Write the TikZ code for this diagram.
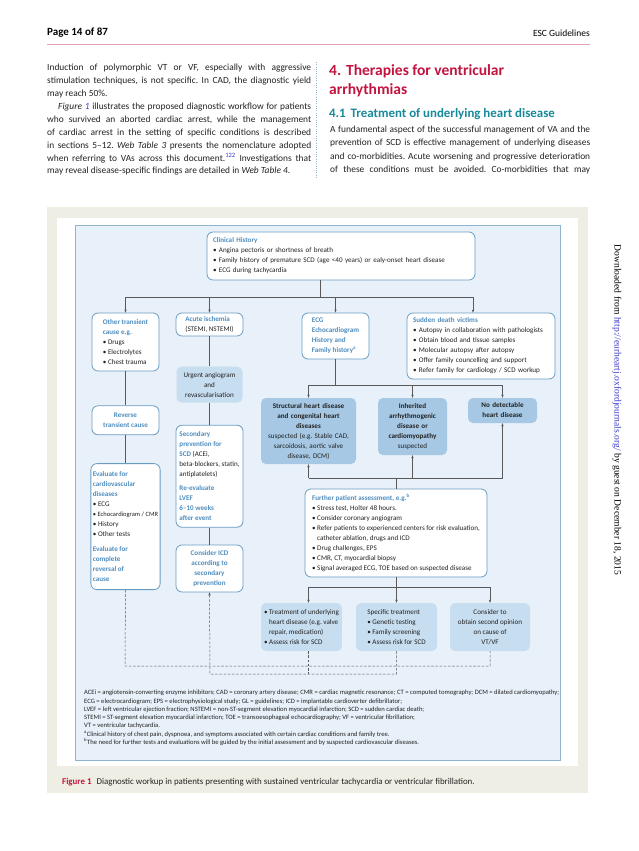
\documentclass[tikz,border=0pt]{standalone}
\usepackage{fontspec}
\setmainfont{Carlito}
\newfontfamily\serifside{Liberation Serif}
\usetikzlibrary{positioning,arrows.meta}
\definecolor{figblue}{HTML}{4F8DBE}
\definecolor{boxline}{HTML}{6A9CC2}
\definecolor{panelfill}{HTML}{E8F1F9}
\definecolor{panelline}{HTML}{8DB5D2}
\definecolor{darkfill}{HTML}{A6C8E4}
\definecolor{lightfill}{HTML}{C7DDF0}
\definecolor{framebeige}{HTML}{EFEEE4}
\definecolor{esccrimson}{HTML}{C3143F}
\definecolor{escteal}{HTML}{17899A}
\definecolor{rulepink}{HTML}{E6A3B3}
\definecolor{inktext}{HTML}{222222}
\definecolor{linkblue}{HTML}{3D3DCC}
\newcommand{\hd}[1]{\textcolor{figblue}{\textbf{#1}}}
\newcommand{\bul}{\textbullet\ }
\newcommand{\jline}[2][264pt]{\makebox[#1][s]{#2}}
\frenchspacing
\begin{document}
\begin{tikzpicture}[x=1pt, y=-1pt,
  figtext/.style={font=\fontsize{7.1}{10}\selectfont, text=inktext},
  wbox/.style={figtext, draw=boxline, line width=0.8pt, fill=white, rounded corners=6pt, inner xsep=4pt, inner ysep=2pt},
  dbox/.style={figtext, fill=darkfill, rounded corners=5pt, inner xsep=3pt, inner ysep=2pt, align=center},
  lbox/.style={figtext, fill=lightfill, rounded corners=5pt, inner xsep=3pt, inner ysep=2pt},
  conn/.style={draw=black!65, line width=0.5pt},
  tip/.style={conn, -{Stealth[length=3.2pt,width=2.4pt]}},
  dashconn/.style={conn, dash pattern=on 2.6pt off 1.6pt},
  bodyline/.style={anchor=west, inner sep=0pt, font=\fontsize{9.4}{12.9}\selectfont, text=inktext}]
\useasboundingbox (0,0) rectangle (638,851);
\fill[white] (0,0) rectangle (638,851);
% page head
\node (pagenum) [anchor=west, inner sep=0pt, font=\fontsize{11}{13}\selectfont\bfseries] at (47,33) {Page 14 of 87};
\node (journal) [anchor=east, inner sep=0pt, font=\fontsize{9.5}{11}\selectfont] at (590,33) {ESC Guidelines};
\draw[rulepink, line width=1.4pt] (47,44.5) -- (590,44.5);
% left column
\node (l1) [bodyline] at (47,68) {\jline{Induction of polymorphic VT or VF, especially with aggressive}};
\node (l2) [bodyline] at (47,81) {\jline{stimulation techniques, is not specific. In CAD, the diagnostic yield}};
\node (l3) [bodyline] at (47,93.5) {may reach 50\%.};
\node (l4) [bodyline] at (47,107) {\jline{\hspace*{11pt}\textit{Figure \textcolor{linkblue}{1}} illustrates the proposed diagnostic workflow for patients}};
\node (l5) [bodyline] at (47,120) {\jline{who survived an aborted cardiac arrest, while the management}};
\node (l6) [bodyline] at (47,133) {\jline{of cardiac arrest in the setting of specific conditions is described}};
\node (l7) [bodyline] at (47,145.5) {\jline{in sections 5--12. \textit{Web Table 3} presents the nomenclature adopted}};
\node (l8) [bodyline] at (47,158) {\jline{when referring to VAs across this document.\textsuperscript{\textcolor{linkblue}{122}} Investigations that}};
\node (l9) [bodyline] at (47,171) {may reveal disease-specific findings are detailed in \textit{Web Table 4}.};
\draw[panelline, line width=0.7pt, dash pattern=on 0.7pt off 1.6pt] (316,62) -- (316,178);
% right column
\node (t1) [anchor=west, inner sep=0pt, font=\fontsize{15.5}{18}\selectfont\bfseries, text=esccrimson] at (329,71) {4.\hspace{5pt}Therapies for ventricular};
\node (t2) [anchor=west, inner sep=0pt, font=\fontsize{15.5}{18}\selectfont\bfseries, text=esccrimson] at (329,90) {arrhythmias};
\node (h41) [anchor=west, inner sep=0pt, font=\fontsize{12.9}{15}\selectfont\bfseries, text=escteal] at (329,114) {4.1\hspace{5pt}Treatment of underlying heart disease};
\node (r1) [bodyline] at (330,130) {\jline[260pt]{A fundamental aspect of the successful management of VA and the}};
\node (r2) [bodyline] at (330,143.5) {\jline[260pt]{prevention of SCD is effective management of underlying diseases}};
\node (r3) [bodyline] at (330,157) {\jline[260pt]{and co-morbidities. Acute worsening and progressive deterioration}};
\node (r4) [bodyline] at (330,170) {\jline[260pt]{of these conditions must be avoided. Co-morbidities that may}};
\node (sidenote) [rotate=-90, inner sep=0pt, font=\serifside\fontsize{9.6}{11}\selectfont] at (617,410) {Downloaded from \textcolor{linkblue}{http://eurheartj.oxfordjournals.org/} by guest on December 18, 2015};
% figure frame
\fill[framebeige] (47,207) rectangle (588,793);
\fill[white] (57,218) rectangle (578,766);
\draw[panelline, fill=panelfill, line width=0.7pt] (75,225) rectangle (560,760);
% boxes
\node (clin) [wbox, text width=256pt, inner xsep=6pt, minimum height=48pt, align=left] at (341,256) {\hd{Clinical History}\\ \bul Angina pectoris or shortness of breath\\ \bul Family history of premature SCD (age <40 years) or ealy-onset heart disease\\ \bul ECG during tachycardia};
\node (other) [wbox, minimum width=67pt, minimum height=58pt, align=left] at (125.5,342) {\hd{Other transient}\\ \hd{cause e.g.}\\ \bul Drugs\\ \bul Electrolytes\\ \bul Chest trauma};
\node (acute) [wbox, minimum width=67pt, minimum height=23pt, align=left] at (209.5,324.5) {\hd{Acute ischemia}\\ (STEMI, NSTEMI)};
\node (ecg) [wbox, minimum width=67pt, minimum height=46pt, align=left] at (335.5,336) {\hd{ECG}\\ \hd{Echocardiogram}\\ \hd{History and}\\ \hd{Family history\textsuperscript{a}}};
\node (sudden) [wbox, text width=136pt, inner xsep=6pt, minimum height=66pt, align=left] at (481,346) {\hd{Sudden death victims}\\ \bul Autopsy in collaboration with pathologists\\ \bul Obtain blood and tissue samples\\ \bul Molecular autopsy after autopsy\\ \bul Offer family councelling and support\\ \bul Refer family for cardiology / SCD workup};
\node (reverse) [wbox, minimum width=67pt, minimum height=29pt, align=center, below=34pt of other] {\hd{Reverse}\\ \hd{transient cause}};
\node (evaluate) [wbox, inner xsep=2pt, minimum width=67pt, minimum height=126pt, align=left, below=28pt of reverse] {\hd{Evaluate for}\\ \hd{cardiovascular}\\ \hd{diseases}\\ \bul ECG\\ {\fontsize{6.5}{10}\selectfont\bul Echocardiogram / CMR}\\ \bul History\\ \bul Other tests\\[5pt] \hd{Evaluate for}\\ \hd{complete}\\ \hd{reversal of}\\ \hd{cause}};
\node (urgent) [lbox, minimum width=66pt, minimum height=36pt, align=center, below=30pt of acute] {Urgent angiogram\\ and\\ revascularisation};
\node (secondary) [wbox, inner xsep=3pt, minimum width=67pt, minimum height=102pt, align=left, below=22pt of urgent] {\hd{Secondary}\\ \hd{prevention for}\\ \hd{SCD} (ACEi,\\ beta-blockers, statin,\\ antiplatelets)\\[4pt] \hd{Re-evaluate}\\ \hd{LVEF}\\ \hd{6--10 weeks}\\ \hd{after event}};
\node (icd) [wbox, minimum width=67pt, minimum height=47pt, align=center, below=17pt of secondary] {\hd{Consider ICD}\\ \hd{according to}\\ \hd{secondary}\\ \hd{prevention}};
\node (struct) [dbox, text width=89pt, minimum height=66pt] at (308.5,431) {\textbf{Structural heart disease}\\ \textbf{and congenital heart}\\ \textbf{diseases}\\ suspected (e.g. Stable CAD,\\ sarcoidosis, aortic valve\\ disease, DCM)};
\node (inher) [dbox, text width=63pt, minimum height=57pt] at (412.5,426.5) {\textbf{Inherited}\\ \textbf{arrhythmogenic}\\ \textbf{disease or}\\ \textbf{cardiomyopathy}\\ suspected};
\node (nodet) [dbox, text width=63pt, minimum height=25pt] at (502.5,410.5) {\textbf{No detectable}\\ \textbf{heart disease}};
\node (assess) [wbox, minimum width=182pt, minimum height=88pt, align=left] at (396,533) {\hd{Further patient assessment, e.g.\textsuperscript{b}}\\ \bul Stress test, Holter 48 hours.\\ \bul Consider coronary angiogram\\ \bul Refer patients to experienced centers for risk evaluation,\\ \hspace*{5pt}catheter ablation, drugs and ICD\\ \bul Drug challenges, EPS\\ \bul CMR, CT, myocardial biopsy\\ \bul Signal averaged ECG, TOE based on suspected disease};
\node (treat1) [lbox, minimum width=77pt, minimum height=48pt, align=left] at (301.5,627) {\bul Treatment of underlying\\ \hspace*{5pt}heart disease (e.g. valve\\ \hspace*{5pt}repair, medication)\\ \bul Assess risk for SCD};
\node (treat2) [lbox, minimum width=81pt, minimum height=48pt, align=left] at (396.5,627) {Specific treatment\\ \bul Genetic testing\\ \bul Family screening\\ \bul Assess risk for SCD};
\node (treat3) [lbox, minimum width=80pt, minimum height=48pt, align=center] at (490,627) {Consider to\\ obtain second opinion\\ on cause of\\ VT/VF};
% branch points
\coordinate (b1) at (320,297);
\coordinate (b1r) at (473,297);
\coordinate (b2) at (336,385);
\coordinate (b3) at (396,478);
\coordinate (b4) at (396,587);
\coordinate (d1) at (125,666);
\coordinate (d2) at (210,674);
% connectors
\draw[conn] (clin.south -| b1) -- (b1);
\draw[conn] (other.north |- b1) -- (b1r);
\draw[tip] (other.north |- b1) -- (other.north);
\draw[tip] (acute.north |- b1) -- (acute.north);
\draw[tip] (ecg.north |- b1) -- (ecg.north);
\draw[tip] (b1r) -- (b1r |- sudden.north);
\draw[conn] (other) -- (reverse);
\draw[conn] (reverse) -- (evaluate);
\draw[conn] (acute) -- (urgent);
\draw[conn] (urgent) -- (secondary);
\draw[conn] (secondary) -- (icd);
\draw[conn] (ecg.south) -- (ecg.south |- b2);
\draw[conn] (struct.north |- b2) -- (nodet.north |- b2);
\draw[tip] (struct.north |- b2) -- (struct.north);
\draw[tip] (inher.north |- b2) -- (inher.north);
\draw[tip] (nodet.north |- b2) -- (nodet.north);
\draw[conn] (assess.north) -- (b3);
\draw[conn] (struct.south |- b3) -- (nodet.south |- b3);
\draw[tip] (struct.south |- b3) -- (struct.south);
\draw[tip] (inher.south |- b3) -- (inher.south);
\draw[tip] (nodet.south |- b3) -- (nodet.south);
\draw[conn] (assess.south) -- (b4);
\draw[conn] (struct.south |- b4) -- (treat3.north |- b4);
\draw[tip] (struct.south |- b4) -- (struct.south |- treat1.north);
\draw[tip] (treat2.north |- b4) -- (treat2.north);
\draw[tip] (treat3.north |- b4) -- (treat3.north);
% dashed returns
\draw[dashconn] (evaluate.south) -- (d1) -- (treat3.south |- d1) -- (treat3.south);
\draw[dashconn] (struct.south |- treat1.south) -- (struct.south |- d2);
\draw[dashconn, -{Stealth[length=3.2pt,width=2.4pt]}] (treat2.south) -- (treat2.south |- d2) -- (d2) -- (icd.south);
% abbreviations
\node (abbrev) [anchor=north west, inner sep=0pt, align=left, font=\fontsize{6.6}{8.3}\selectfont, text=inktext] at (84,690) {ACEi = angiotensin-converting enzyme inhibitors; CAD = coronary artery disease; CMR = cardiac magnetic resonance; CT = computed tomography; DCM = dilated cardiomyopathy;\\ ECG = electrocardiogram; EPS = electrophysiological study; GL = guidelines; ICD = implantable cardioverter defibrillator;\\ LVEF = left ventricular ejection fraction; NSTEMI = non-ST-segment elevation myocardial infarction; SCD = sudden cardiac death;\\ STEMI = ST-segment elevation myocardial infarction; TOE = transoesophageal echocardiography; VF = ventricular fibrillation;\\ VT = ventricular tachycardia.\\ \textsuperscript{a}Clinical history of chest pain, dyspnoea, and symptoms associated with certain cardiac conditions and family tree.\\ \textsuperscript{b}The need for further tests and evaluations will be guided by the initial assessment and by suspected cardiovascular diseases.};
\node (caption) [anchor=west, inner sep=0pt, font=\fontsize{8.9}{10}\selectfont, text=inktext] at (62,782) {\textcolor{esccrimson}{\textbf{Figure 1}}\hspace{5pt}Diagnostic workup in patients presenting with sustained ventricular tachycardia or ventricular fibrillation.};
\end{tikzpicture}
\end{document}
